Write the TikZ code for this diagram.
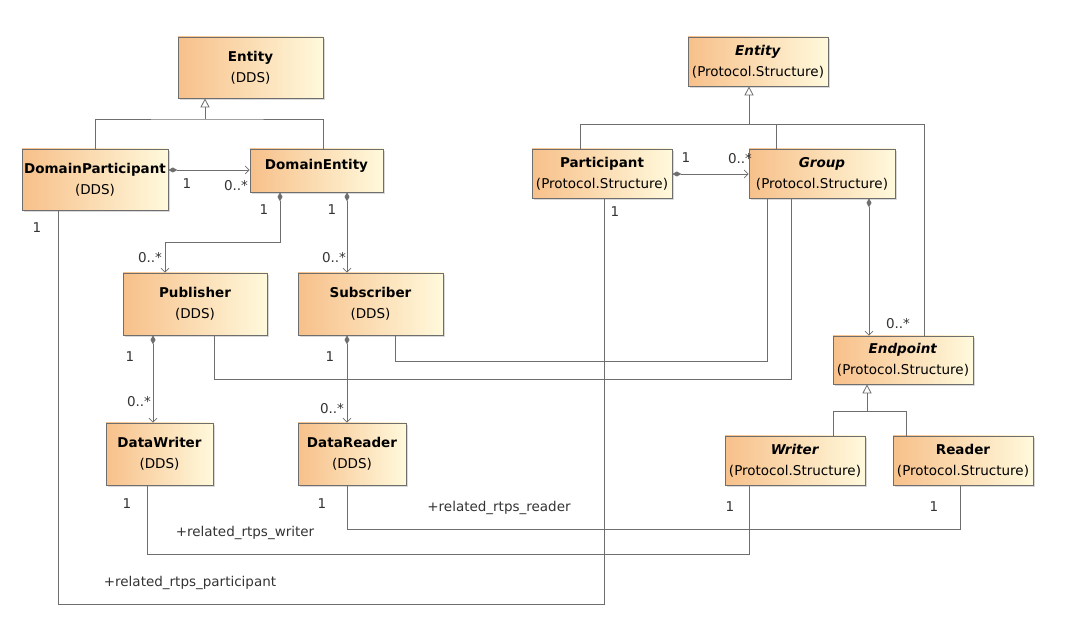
\documentclass[tikz,border=0pt]{standalone}
\usepackage{fontspec}
\setmainfont{DejaVu Sans}
\usetikzlibrary{arrows.meta,shadows}
\definecolor{boxL}{HTML}{F7C08A}
\definecolor{boxR}{HTML}{FFF9DC}
\definecolor{lc}{HTML}{6E6E6E}
\begin{document}
\begin{tikzpicture}[x=1pt,y=-1pt,
 box/.style={draw=lc, line width=0.7pt, left color=boxL, right color=boxR,
   drop shadow={opacity=0.3,shadow xshift=2pt,shadow yshift=-2pt},
   align=center, font=\fontsize{13.5}{21}\selectfont, inner sep=1pt},
 ln/.style={draw=lc, line width=0.8pt},
 comp/.style={ln, {Diamond[length=9pt,width=5pt]}-{Straight Barb[length=4pt,width=8pt]}},
 gen/.style={ln, -{Triangle[open,length=9pt,width=9pt,fill=white]}},
 lbl/.style={font=\fontsize{13.5}{15}\selectfont, text=black!80, inner sep=0pt}]
\useasboundingbox (0,0) rectangle (1080,620);
% nodes
\node[box, minimum width=145, minimum height=61] (E1) at (250.5,67.5) {\textbf{Entity}\\(DDS)};
\node[box, minimum width=146, minimum height=61] (DP) at (95,179.5) {\textbf{DomainParticipant}\\(DDS)};
\node[box, minimum width=133, minimum height=43] (DE) at (316.5,170.5) {\textbf{DomainEntity}\\[-8pt]\phantom{x}};
\node[box, minimum width=144, minimum height=62] (Pub) at (195,304) {\textbf{Publisher}\\(DDS)};
\node[box, minimum width=145, minimum height=62] (Sub) at (370.5,304) {\textbf{Subscriber}\\(DDS)};
\node[box, minimum width=107, minimum height=62] (DW) at (159.5,454) {\textbf{DataWriter}\\(DDS)};
\node[box, minimum width=108, minimum height=62] (DR) at (352,454) {\textbf{DataReader}\\(DDS)};
\node[box, minimum width=140, minimum height=49] (E2) at (758,61.5) {\textbf{\textit{Entity}}\\(Protocol.Structure)};
\node[box, minimum width=140, minimum height=49] (Part) at (602,173.5) {\textbf{Participant}\\(Protocol.Structure)};
\node[box, minimum width=146, minimum height=49] (Grp) at (822,173.5) {\textbf{\textit{Group}}\\(Protocol.Structure)};
\node[box, minimum width=140, minimum height=48] (EP) at (903,360) {\textbf{\textit{Endpoint}}\\(Protocol.Structure)};
\node[box, minimum width=140, minimum height=49] (Wr) at (795,460.5) {\textbf{\textit{Writer}}\\(Protocol.Structure)};
\node[box, minimum width=140, minimum height=49] (Rd) at (963,460.5) {\textbf{Reader}\\(Protocol.Structure)};
% helper coordinates
\foreach \v in {58,95,147,153,165,205,214,280,323,347,395,580,604,749,767,776,791,833,867,869,906,924,960}
  \coordinate (v\v) at (\v,0);
\foreach \h in {119,124,170,174,242,361,379,411,529,554,604}
  \coordinate (h\h) at (0,\h);
% DDS generalization
\draw[ln] (DP.north -| v95) |- (v205 |- h119) -| (DE.north -| v323);
\draw[gen] (v205 |- h119) -- (E1.south -| v205);
% compositions DDS
\draw[comp] (DP.east |- h170) -- (DE.west |- h170);
\draw[comp] (DE.south -| v280) -- (v280 |- h242) -| (Pub.north -| v165);
\draw[comp] (DE.south -| v347) -- (Sub.north -| v347);
\draw[comp] (Pub.south -| v153) -- (DW.north -| v153);
\draw[comp] (Sub.south -| v347) -- (DR.north -| v347);
% associations
\draw[ln] (Pub.south -| v214) |- (v791 |- h379) -- (Grp.south -| v791);
\draw[ln] (Sub.south -| v395) |- (v767 |- h361) -- (Grp.south -| v767);
\draw[ln] (DP.south -| v58) |- (v604 |- h604) -- (Part.south -| v604);
\draw[ln] (DW.south -| v147) |- (v749 |- h554) -- (Wr.south -| v749);
\draw[ln] (DR.south -| v347) |- (v960 |- h529) -- (Rd.south -| v960);
% Protocol generalization
\draw[ln] (Part.north -| v580) |- (v924 |- h124) -- (EP.north -| v924);
\draw[ln] (Grp.north -| v776) -- (v776 |- h124);
\draw[gen] (v749 |- h124) -- (E2.south -| v749);
\draw[comp] (Part.east |- h174) -- (Grp.west |- h174);
\draw[comp] (Grp.south -| v869) -- (EP.north -| v869);
\draw[ln] (Wr.north -| v833) |- (v906 |- h411) -- (Rd.north -| v906);
\draw[gen] (v867 |- h411) -- (EP.south -| v867);
% labels
\node[lbl] (l1) at (187,184) {1};
\node[lbl] (l2) at (236,186) {0..*};
\node[lbl] (l3) at (37,228) {1};
\node[lbl] (l4) at (264,210) {1};
\node[lbl] (l5) at (332,210) {1};
\node[lbl] (l6) at (150,258) {0..*};
\node[lbl] (l7) at (334,258) {0..*};
\node[lbl] (l8) at (130,357) {1};
\node[lbl] (l9) at (330,357) {1};
\node[lbl] (l10) at (139,402) {0..*};
\node[lbl] (l11) at (332,409) {0..*};
\node[lbl] (l12) at (127,504) {1};
\node[lbl] (l13) at (322,504) {1};
\node[lbl] (l14) at (245,533) {+related\_rtps\_writer};
\node[lbl] (l15) at (499,508) {+related\_rtps\_reader};
\node[lbl] (l16) at (190,583) {+related\_rtps\_participant};
\node[lbl] (l17) at (686,158) {1};
\node[lbl] (l18) at (740,159) {0..*};
\node[lbl] (l19) at (615,212) {1};
\node[lbl] (l20) at (898,324) {0..*};
\node[lbl] (l21) at (730,507) {1};
\node[lbl] (l22) at (934,507) {1};
\end{tikzpicture}
\end{document}
